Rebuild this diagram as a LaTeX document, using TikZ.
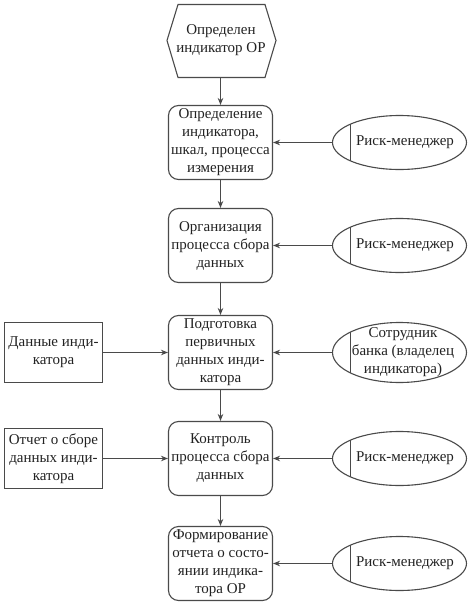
\documentclass[tikz,border=0pt]{standalone}
\usepackage{fontspec}
\setmainfont{Liberation Serif}
\usetikzlibrary{shapes.geometric,arrows.meta,calc}
\definecolor{ln}{HTML}{4A4A4A}
\definecolor{tx}{HTML}{222222}
\begin{document}
\begin{tikzpicture}[x=1pt,y=-1pt,
  every node/.style={font=\fontsize{15}{18}\selectfont,text=tx,align=center},
  func/.style={draw=ln,line width=1.1pt,rounded corners=10pt,minimum width=104pt,minimum height=74pt,inner sep=0pt},
  info/.style={draw=ln,line width=1.1pt,minimum width=98pt,minimum height=60pt,inner sep=0pt},
  org/.style={draw=ln,line width=1.1pt,ellipse,minimum width=134pt,minimum height=54pt,inner sep=0pt},
  flow/.style={draw=ln,line width=1.1pt,-{Stealth[length=7pt,width=5.5pt]}}]
\useasboundingbox (0,0) rectangle (474,608);
% event
\node (ev) at (221,40.5) {Определен\\индикатор ОР};
\draw[ln,line width=1.1pt] (167,40.5)--(178,4.5)--(265,4.5)--(276,40.5)--(265,77.5)--(178,77.5)--cycle;
\coordinate (evb) at (220.5,77.5);
% functions
\node[func] (f1) at (220.5,142.5) {Определение\\индикатора,\\шкал, процесса\\измерения};
\node[func] (f2) at (220.5,245.5) {Организация\\процесса сбора\\данных};
\node[func] (f3) at (220.5,352.5) {Подготовка\\первичных\\данных инди-\\катора};
\node[func] (f4) at (220.5,458.5) {Контроль\\процесса сбора\\данных};
\node[func] (f5) at (220.5,563.5) {Формирование\\отчета о состо-\\янии индика-\\тора ОР};
% info objects
\node[info] (i3) at (53.5,352.5) {Данные инди-\\катора};
\node[info] (i4) at (53.5,458.5) {Отчет о сборе\\данных инди-\\катора};
% org units
\node[org] (o1) at (399.5,142.5) {};
\node[org] (o2) at (399.5,245.5) {};
\node[org,minimum height=60pt] (o3) at (399.5,352.5) {};
\node[org] (o4) at (399.5,458.5) {};
\node[org] (o5) at (399.5,563.5) {};
\node (t1) at (405,142.5) {Риск-менеджер};
\node (t2) at (405,245.5) {Риск-менеджер};
\node (t3) at (403,352.5) {Сотрудник\\банка (владелец\\индикатора)};
\node (t4) at (405,458.5) {Риск-менеджер};
\node (t5) at (405,563.5) {Риск-менеджер};
\foreach \o/\b in {o1/27,o2/27,o3/30,o4/27,o5/27}{
  \begin{scope}
    \clip (\o.center) ellipse [x radius=67pt,y radius=\b pt];
    \draw[ln,line width=1.1pt] ($(\o.center)+(-49,-40)$) -- ($(\o.center)+(-49,40)$);
  \end{scope}
}
% connectors
\draw[flow] (evb) -- (f1.north);
\draw[flow] (f1) -- (f2);
\draw[flow] (f2) -- (f3);
\draw[flow] (f3) -- (f4);
\draw[flow] (f4) -- (f5);
\draw[flow] (o1) -- (f1);
\draw[flow] (o2) -- (f2);
\draw[flow] (o3) -- (f3);
\draw[flow] (o4) -- (f4);
\draw[flow] (o5) -- (f5);
\draw[flow] (i3) -- (f3);
\draw[flow] (i4) -- (f4);
\end{tikzpicture}
\end{document}
